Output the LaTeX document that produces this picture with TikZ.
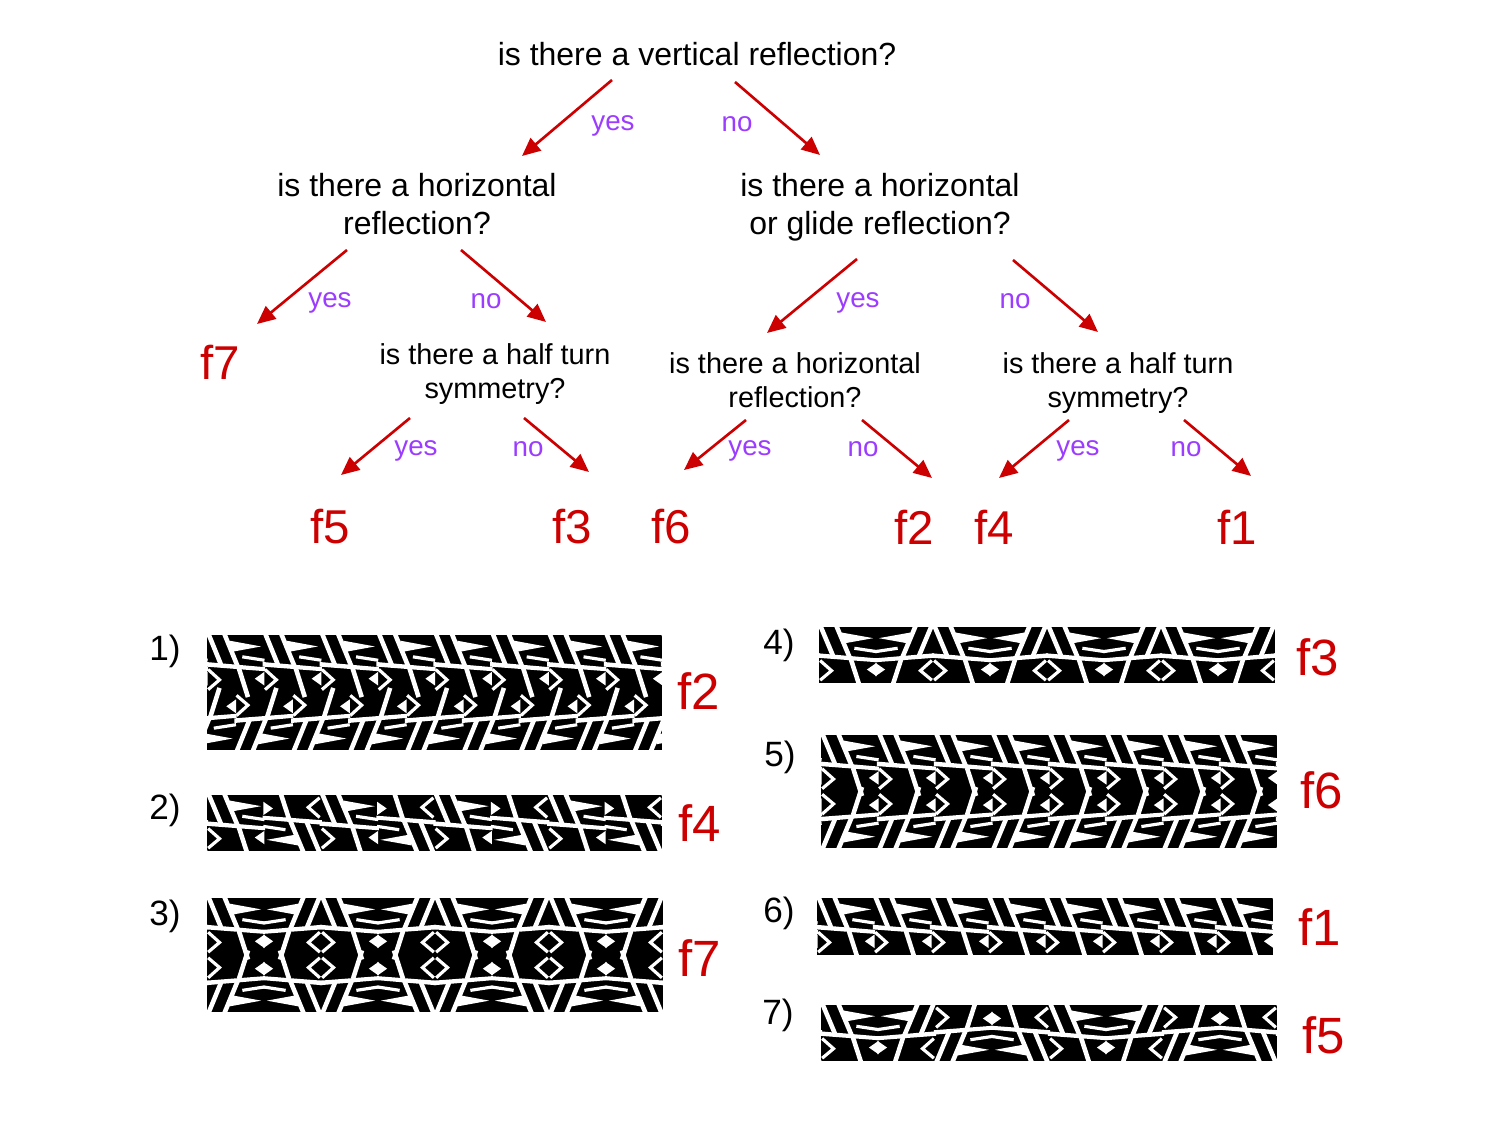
\documentclass[tikz,border=0pt]{standalone}
\usepackage{fontspec}
\setmainfont{Liberation Sans}
\usetikzlibrary{arrows.meta}
\definecolor{arrred}{HTML}{CC0000}
\definecolor{lblpurple}{HTML}{9B3CFF}
\tikzset{
  qbig/.style={inner sep=0pt, align=center, font=\fontsize{9.1pt}{10.8pt}\selectfont},
  qsmall/.style={inner sep=0pt, align=center, font=\fontsize{8.2pt}{9.7pt}\selectfont},
  yn/.style={inner sep=0pt, text=lblpurple, font=\fontsize{7.9pt}{9pt}\selectfont},
  leaf/.style={inner sep=0pt, text=arrred, font=\fontsize{13.5pt}{15pt}\selectfont},
  flabel/.style={inner sep=0pt, text=arrred, font=\fontsize{14.5pt}{16pt}\selectfont},
  numlabel/.style={inner sep=0pt, font=\fontsize{10pt}{12pt}\selectfont},
  decision/.style={draw=arrred, line width=0.75pt, -{Triangle[length=5.2pt,width=4.6pt]}},
  wline/.style={draw=white, line width=1.3pt},
  wthin/.style={draw=white, line width=0.9pt},
  strip/.style={fill=black}
}
\newcommand\fmotif{%
  \fill[white] (-0.02,0.53) -- (1.02,0.44) -- (1.02,0.37) -- (-0.02,0.45) -- cycle;
  \draw[wline] (0.00,1.08) -- (0.26,0.45);
  \draw[wline] (0.28,1.08) -- (0.54,0.45);
  \fill[white] (0.40,0.90) -- (0.40,0.70) -- (0.95,0.80) -- cycle;
  \draw[wthin] (0.62,0.62) -- (1.01,0.56);
  \draw[wline] (0.56,0.42) -- (0.72,-0.08);
  \draw[wthin] (0.02,0.05) -- (0.22,0.22) -- (0.02,0.40);
  \fill[white] (1.01,0.36) -- (1.01,0.12) -- (0.84,0.24) -- cycle;
}
\newcommand\fcell[4]{\begin{scope}[shift={(#1,#2)},x=#3cm,y=#4cm]\fmotif\end{scope}}
\begin{document}
\begin{tikzpicture}[x=0.01cm,y=-0.01cm]
\useasboundingbox (0,0) rectangle (1500,1125);

% ---------------- decision tree ----------------
\node[qbig] (q0) at (697,54) {is there a vertical reflection?};
\node[qbig] (qL) at (417,204) {is there a horizontal\\reflection?};
\node[qbig] (qR) at (880,207) {is there a horizontal\\or glide reflection?};
\node[qsmall] (qLR) at (495,374) {is there a half turn\\symmetry?};
\node[qsmall] (qRL) at (795,380) {is there a horizontal\\reflection?};
\node[qsmall] (qRR) at (1118,383) {is there a half turn\\symmetry?};

\node[leaf] (t7) at (220,362) {f7};
\node[leaf] (t5) at (330,527) {f5};
\node[leaf] (t3) at (572,527) {f3};
\node[leaf] (t6) at (671,527) {f6};
\node[leaf] (t2) at (914,527) {f2};
\node[leaf] (t4) at (994,527) {f4};
\node[leaf] (t1) at (1237,527) {f1};

\coordinate (s1) at (612,80);   \coordinate (e1) at (522,156);
\coordinate (s2) at (735,82);   \coordinate (e2) at (820,155);
\coordinate (s3) at (347,250);  \coordinate (e3) at (257,324);
\coordinate (s4) at (461,250);  \coordinate (e4) at (546,322);
\coordinate (s5) at (857,259);  \coordinate (e5) at (767,333);
\coordinate (s6) at (1013,260); \coordinate (e6) at (1098,332);
\coordinate (s7) at (410,418);  \coordinate (e7) at (341,475);
\coordinate (s8) at (524,418);  \coordinate (e8) at (589,472);
\coordinate (s9) at (746,420);  \coordinate (e9) at (684,470);
\coordinate (s10) at (862,420); \coordinate (e10) at (932,478);
\coordinate (s11) at (1069,420);\coordinate (e11) at (999,478);
\coordinate (s12) at (1184,420);\coordinate (e12) at (1251,476);
\foreach \k in {1,...,12}{\draw[decision] (s\k) -- (e\k);}

\node[yn] (y1) at (613,126) {yes};
\node[yn] (n1) at (737,124) {no};
\node[yn] (y2) at (330,303) {yes};
\node[yn] (n2) at (486,301) {no};
\node[yn] (y3) at (858,303) {yes};
\node[yn] (n3) at (1015,301) {no};
\node[yn] (y4) at (416,451) {yes};
\node[yn] (n4) at (528,449) {no};
\node[yn] (y5) at (750,451) {yes};
\node[yn] (n5) at (863,449) {no};
\node[yn] (y6) at (1078,451) {yes};
\node[yn] (n6) at (1186,449) {no};

% ---------------- frieze patterns ----------------
% 1) f2 : glide reflection
\fill[strip] (207,635) rectangle (662,750);
\begin{scope}
\clip (207,635) rectangle (662,750);
\foreach \i in {-1,...,8}{
  \fcell{207+\i*56.875}{692.5}{0.56875}{0.575}
  \fcell{235.4+\i*56.875}{692.5}{0.56875}{-0.575}
}
\end{scope}
% 2) f4 : half turn
\fill[strip] (207,795) rectangle (662,851);
\begin{scope}
\clip (207,795) rectangle (662,851);
\foreach \i in {-1,...,4}{
  \fcell{207+\i*113.75}{851}{0.56875}{0.56}
  \fcell{320.75+\i*113.75}{795}{-0.56875}{-0.56}
}
\end{scope}
% 3) f7 : both reflections
\fill[strip] (207,898) rectangle (663,1012);
\begin{scope}
\clip (207,898) rectangle (663,1012);
\foreach \i in {-1,...,4}{
  \fcell{207+\i*114}{955}{0.57}{0.57}
  \fcell{321+\i*114}{955}{-0.57}{0.57}
  \fcell{207+\i*114}{955}{0.57}{-0.57}
  \fcell{321+\i*114}{955}{-0.57}{-0.57}
}
\end{scope}
% 4) f3 : vertical reflection
\fill[strip] (819,627) rectangle (1275,683);
\begin{scope}
\clip (819,627) rectangle (1275,683);
\foreach \i in {-1,...,4}{
  \fcell{819+\i*114}{683}{0.57}{0.56}
  \fcell{933+\i*114}{683}{-0.57}{0.56}
}
\end{scope}
% 5) f6 : horizontal reflection
\fill[strip] (821,735) rectangle (1277,848);
\begin{scope}
\clip (821,735) rectangle (1277,848);
\foreach \i in {-1,...,8}{
  \fcell{821+\i*57}{791.5}{0.57}{0.565}
  \fcell{821+\i*57}{791.5}{0.57}{-0.565}
}
\end{scope}
% 6) f1 : translation only
\fill[strip] (817,898) rectangle (1273,955);
\begin{scope}
\clip (817,898) rectangle (1273,955);
\foreach \i in {-1,...,8}{
  \fcell{817+\i*57}{955}{0.57}{0.57}
}
\end{scope}
% 7) f5 : vertical reflection and glide
\fill[strip] (821,1005) rectangle (1277,1061);
\begin{scope}
\clip (821,1005) rectangle (1277,1061);
\foreach \i in {-1,...,2}{
  \fcell{821+\i*228}{1061}{0.57}{0.56}
  \fcell{935+\i*228}{1061}{-0.57}{0.56}
  \fcell{935+\i*228}{1005}{0.57}{-0.56}
  \fcell{1049+\i*228}{1005}{-0.57}{-0.56}
}
\end{scope}

% ---------------- labels ----------------
\node[numlabel] (p1) at (165,651) {1)};
\node[numlabel] (p2) at (165,810) {2)};
\node[numlabel] (p3) at (165,916) {3)};
\node[numlabel] (p4) at (779,645) {4)};
\node[numlabel] (p5) at (780,757) {5)};
\node[numlabel] (p6) at (779,913) {6)};
\node[numlabel] (p7) at (778,1015) {7)};

\node[flabel] (l1) at (699,691) {f2};
\node[flabel] (l2) at (700,823) {f4};
\node[flabel] (l3) at (700,958) {f7};
\node[flabel] (l4) at (1318,657) {f3};
\node[flabel] (l5) at (1322,790) {f6};
\node[flabel] (l6) at (1320,927) {f1};
\node[flabel] (l7) at (1324,1035) {f5};
\end{tikzpicture}
\end{document}
